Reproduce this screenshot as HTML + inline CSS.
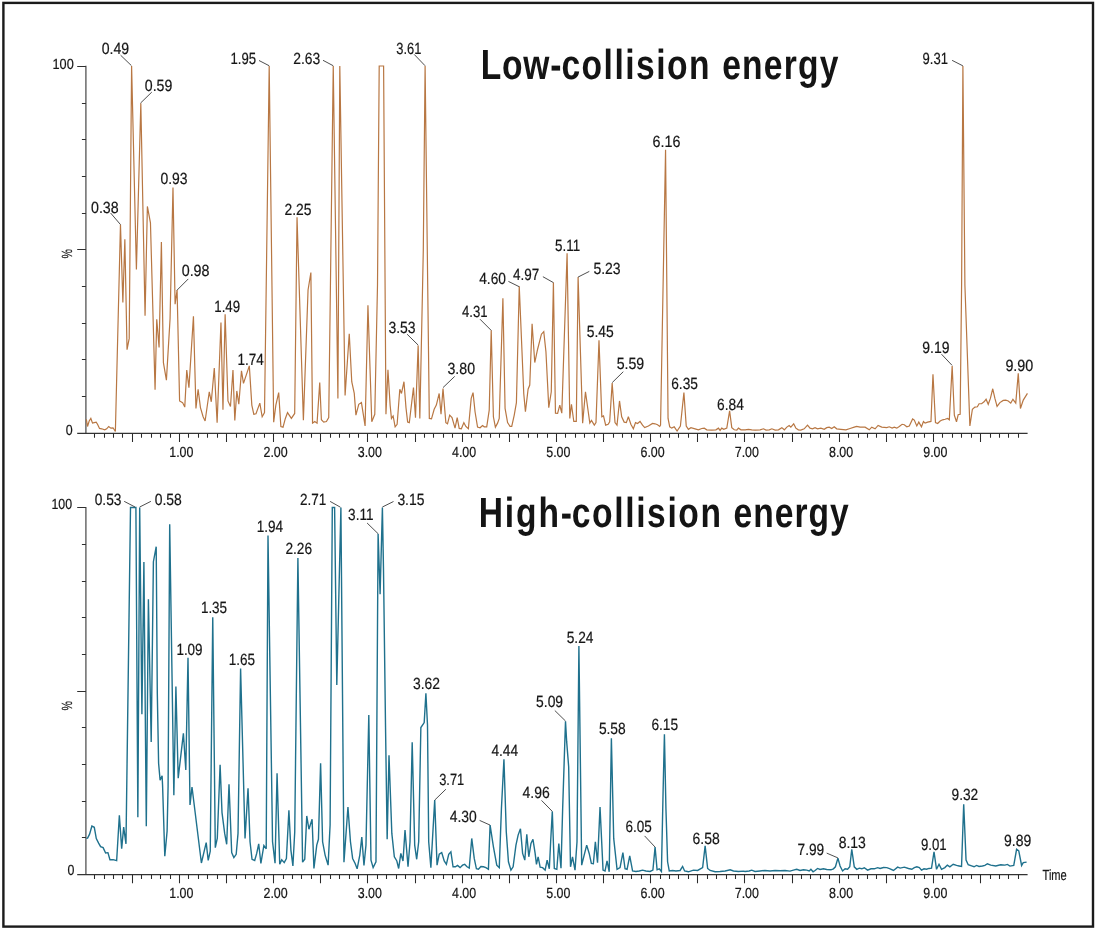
<!DOCTYPE html>
<html lang="en">
<head>
<meta charset="utf-8">
<title>Low- and high-collision energy chromatograms</title>
<style>
html,body{margin:0;padding:0;background:#fff;}
body{width:1097px;height:931px;overflow:hidden;font-family:"Liberation Sans",sans-serif;}
svg{display:block;}
text{font-family:"Liberation Sans",sans-serif;fill:#161616;text-rendering:geometricPrecision;}
svg{will-change:transform;opacity:0.9999;}
.ax{font-size:14.7px;stroke:#161616;stroke-width:0.22px;}
.pk{font-size:16.2px;stroke:#161616;stroke-width:0.2px;}
.ttl{font-size:42px;font-weight:bold;fill:#141414;}
</style>
</head>
<body>
<svg width="1097" height="931" viewBox="0 0 1097 931">
<rect x="0" y="0" width="1097" height="931" fill="#fff"/>
<rect x="3.4" y="2.9" width="1089.6" height="923.7" fill="none" stroke="#1b1b1b" stroke-width="2.4"/>
<!-- top chart -->
<line x1="85.9" y1="65.70" x2="85.9" y2="433.40" stroke="#5a5a5a" stroke-width="1.35"/>
<line x1="77.2" y1="433.40" x2="1027.6" y2="433.40" stroke="#333" stroke-width="1.3"/>
<path d="M94.5 433.40v4.3 M104.5 433.40v4.3 M113.5 433.40v4.3 M122.5 433.40v4.3 M132.5 433.40v8.6 M141.5 433.40v4.3 M151.5 433.40v4.3 M160.5 433.40v4.3 M170.5 433.40v4.3 M179.5 433.40v8.6 M188.5 433.40v4.3 M198.5 433.40v4.3 M207.5 433.40v4.3 M217.5 433.40v4.3 M226.5 433.40v8.6 M236.5 433.40v4.3 M245.5 433.40v4.3 M254.5 433.40v4.3 M264.5 433.40v4.3 M273.5 433.40v8.6 M283.5 433.40v4.3 M292.5 433.40v4.3 M301.5 433.40v4.3 M311.5 433.40v4.3 M320.5 433.40v8.6 M330.5 433.40v4.3 M339.5 433.40v4.3 M349.5 433.40v4.3 M358.5 433.40v4.3 M367.5 433.40v8.6 M377.5 433.40v4.3 M386.5 433.40v4.3 M396.5 433.40v4.3 M405.5 433.40v4.3 M415.5 433.40v8.6 M424.5 433.40v4.3 M433.5 433.40v4.3 M443.5 433.40v4.3 M452.5 433.40v4.3 M462.5 433.40v8.6 M471.5 433.40v4.3 M481.5 433.40v4.3 M490.5 433.40v4.3 M499.5 433.40v4.3 M509.5 433.40v8.6 M518.5 433.40v4.3 M528.5 433.40v4.3 M537.5 433.40v4.3 M547.5 433.40v4.3 M556.5 433.40v8.6 M565.5 433.40v4.3 M575.5 433.40v4.3 M584.5 433.40v4.3 M594.5 433.40v4.3 M603.5 433.40v8.6 M613.5 433.40v4.3 M622.5 433.40v4.3 M631.5 433.40v4.3 M641.5 433.40v4.3 M650.5 433.40v8.6 M660.5 433.40v4.3 M669.5 433.40v4.3 M678.5 433.40v4.3 M688.5 433.40v4.3 M697.5 433.40v8.6 M707.5 433.40v4.3 M716.5 433.40v4.3 M726.5 433.40v4.3 M735.5 433.40v4.3 M744.5 433.40v8.6 M754.5 433.40v4.3 M763.5 433.40v4.3 M773.5 433.40v4.3 M782.5 433.40v4.3 M792.5 433.40v8.6 M801.5 433.40v4.3 M810.5 433.40v4.3 M820.5 433.40v4.3 M829.5 433.40v4.3 M839.5 433.40v8.6 M848.5 433.40v4.3 M858.5 433.40v4.3 M867.5 433.40v4.3 M876.5 433.40v4.3 M886.5 433.40v8.6 M895.5 433.40v4.3 M905.5 433.40v4.3 M914.5 433.40v4.3 M924.5 433.40v4.3 M933.5 433.40v8.6 M942.5 433.40v4.3 M952.5 433.40v4.3 M961.5 433.40v4.3 M971.5 433.40v4.3 M980.5 433.40v8.6 M990.5 433.40v4.3 M999.5 433.40v4.3 M1008.5 433.40v4.3 M1018.5 433.40v4.3" stroke="#2a2a2a" stroke-width="1.05" fill="none"/>
<path d="M85.9 396.5h-4.0 M85.9 359.5h-4.0 M85.9 323.5h-4.0 M85.9 286.5h-4.0 M85.9 249.5h-8.7 M85.9 213.5h-4.0 M85.9 176.5h-4.0 M85.9 139.5h-4.0 M85.9 103.5h-4.0 M85.9 66.5h-8.7" stroke="#2e2e2e" stroke-width="1.05" fill="none"/>
<text class="ax" x="169.25" y="457.00" textLength="24.2" lengthAdjust="spacingAndGlyphs">1.00</text>
<text class="ax" x="263.50" y="457.00" textLength="24.2" lengthAdjust="spacingAndGlyphs">2.00</text>
<text class="ax" x="357.75" y="457.00" textLength="24.2" lengthAdjust="spacingAndGlyphs">3.00</text>
<text class="ax" x="452.00" y="457.00" textLength="24.2" lengthAdjust="spacingAndGlyphs">4.00</text>
<text class="ax" x="546.25" y="457.00" textLength="24.2" lengthAdjust="spacingAndGlyphs">5.00</text>
<text class="ax" x="640.50" y="457.00" textLength="24.2" lengthAdjust="spacingAndGlyphs">6.00</text>
<text class="ax" x="734.75" y="457.00" textLength="24.2" lengthAdjust="spacingAndGlyphs">7.00</text>
<text class="ax" x="829.00" y="457.00" textLength="24.2" lengthAdjust="spacingAndGlyphs">8.00</text>
<text class="ax" x="923.25" y="457.00" textLength="24.2" lengthAdjust="spacingAndGlyphs">9.00</text>
<text class="ax" x="52.5" y="68.8" textLength="21.2" lengthAdjust="spacingAndGlyphs">100</text>
<text class="ax" x="65.8" y="434.8" textLength="6.9" lengthAdjust="spacingAndGlyphs">0</text>
<text class="ax" transform="translate(71.9 258.55) rotate(-90) scale(0.72 1)" x="0" y="0">%</text>
<polyline points="86.34,419.29 87.51,426.46 89.18,420.96 90.84,418.45 92.51,423.13 94.18,422.63 96.18,422.12 97.52,424.29 99.52,428.46 101.69,428.80 104.69,429.80 106.69,428.80 108.69,426.46 110.86,428.13 113.03,427.80 115.37,431.47 120.47,224.59 122.87,302.52 124.85,239.24 127.04,349.73 129.21,338.38 131.60,66.00 136.40,269.50 140.82,103.16 145.06,315.86 147.38,206.43 150.45,222.84 155.07,389.76 156.74,319.20 159.07,347.56 161.39,242.09 163.41,362.57 166.41,380.09 170.08,318.36 172.98,187.39 175.09,304.18 177.09,290.00 179.59,400.94 182.59,402.61 184.76,407.11 186.76,370.08 188.93,387.59 193.44,316.36 195.94,408.45 198.11,389.26 200.44,407.61 203.11,416.79 205.11,420.96 209.28,391.76 211.29,401.77 214.29,368.08 217.12,422.63 220.96,322.53 222.96,409.78 225.13,314.19 227.97,400.94 230.47,406.44 232.97,370.08 234.81,420.46 236.81,390.93 238.81,404.28 241.48,370.91 243.48,383.42 249.32,365.91 251.82,405.11 253.82,414.28 255.99,413.78 259.83,403.11 262.17,416.79 264.51,412.62 269.20,66.00 273.68,422.12 275.85,405.11 278.69,392.60 280.86,426.46 283.03,427.13 285.36,418.45 287.53,412.62 291.37,418.45 294.70,413.45 297.03,217.37 303.38,420.12 308.05,290.00 310.88,272.49 312.55,423.13 314.72,421.46 317.06,423.13 319.73,382.59 321.39,419.79 323.73,422.12 326.40,421.46 328.73,417.62 333.25,66.00 337.91,398.44 339.80,66.00 345.08,395.43 349.25,333.71 351.75,381.75 354.26,393.43 355.93,415.12 358.76,404.28 361.43,402.61 365.10,425.96 367.94,305.35 371.77,421.79 374.78,414.28 377.50,285.00 379.20,66.00 383.60,66.00 385.95,414.28 387.95,369.74 390.12,405.11 391.46,418.45 393.13,415.95 395.13,426.80 397.13,424.29 399.80,389.26 401.47,393.43 403.97,381.75 405.97,407.61 407.64,422.12 409.31,422.63 413.48,387.59 415.48,417.62 418.15,345.39 419.82,418.45 422.60,285.00 423.30,250.00 425.10,66.00 427.70,285.00 429.33,418.45 431.49,418.79 434.17,409.28 436.34,405.11 439.18,393.43 441.01,414.28 443.01,388.43 445.85,422.63 447.52,423.79 449.68,415.12 452.02,417.62 455.02,428.13 457.19,417.62 459.19,428.46 461.36,428.80 463.86,422.63 465.87,426.46 468.37,428.80 471.20,398.44 473.04,392.60 475.04,411.78 477.54,427.13 480.05,427.80 482.55,425.46 484.22,426.80 486.72,426.80 489.22,410.11 491.22,330.37 493.39,416.79 495.39,427.13 497.56,423.13 499.23,418.45 502.90,298.35 505.07,408.45 507.57,422.63 510.07,426.46 511.74,426.46 514.24,415.12 516.41,402.61 519.25,286.33 523.75,393.43 525.42,411.78 528.09,389.26 529.76,385.09 532.09,323.70 534.76,362.57 537.60,349.23 541.43,334.21 543.77,331.71 545.94,351.73 548.77,407.61 551.28,391.76 553.41,282.56 555.45,413.12 557.62,413.45 559.78,405.11 561.79,413.12 567.09,253.37 569.79,418.45 571.46,404.28 573.80,421.46 576.30,421.46 578.10,277.06 582.64,423.13 585.47,391.76 589.81,423.13 591.48,420.46 594.32,425.13 595.98,422.63 598.99,340.38 601.82,416.79 603.49,415.95 605.66,425.13 608.16,424.29 609.67,421.79 612.17,383.09 615.01,422.63 617.01,425.13 619.51,400.94 621.68,416.79 624.18,422.12 626.35,422.63 628.35,416.79 630.86,424.29 633.36,428.80 635.53,422.63 637.53,423.46 640.03,421.46 642.53,425.13 644.70,427.63 648.37,425.96 652.54,423.46 655.05,423.79 657.55,424.79 659.72,426.46 660.55,425.13 665.56,149.68 668.06,418.45 669.73,426.80 671.73,428.13 674.23,426.80 677.07,430.97 680.40,425.96 683.91,392.60 686.24,425.96 688.41,429.30 690.91,427.63 695.08,428.80 698.42,429.80 701.75,428.46 704.26,428.13 706.76,429.80 711.76,430.13 715.93,429.80 718.44,428.13 720.10,430.47 721.77,428.13 723.77,429.30 726.78,428.13 729.61,410.95 731.78,427.63 734.28,429.80 736.79,430.13 738.45,428.13 740.96,429.80 745.13,429.80 748.46,429.30 751.80,429.80 755.14,430.13 760.14,429.80 763.48,428.80 765.98,430.13 769.32,429.80 771.82,428.80 775.15,430.13 778.49,429.80 781.83,427.63 784.33,429.80 786.83,427.13 789.18,425.46 790.84,427.13 793.68,423.79 795.85,428.13 798.35,429.80 800.85,430.13 804.19,428.80 807.53,425.13 810.03,428.13 812.53,428.80 815.03,427.63 817.53,428.80 820.87,428.13 824.21,429.30 826.71,427.63 829.21,427.13 831.71,428.46 834.22,426.80 836.72,428.80 840.89,429.30 845.89,429.80 850.06,428.46 854.23,427.13 856.74,426.46 860.07,427.13 865.08,427.13 869.25,429.80 871.75,427.13 875.09,428.80 878.09,425.46 881.76,427.13 886.76,427.63 889.27,426.80 892.10,428.13 894.27,427.13 896.77,428.13 899.28,426.46 902.11,424.29 904.28,424.79 906.78,426.80 909.28,425.96 912.62,418.96 914.29,420.12 916.79,425.96 918.79,422.12 921.46,426.80 923.46,421.46 925.13,423.13 927.63,422.12 930.97,421.46 932.97,374.25 935.47,422.63 937.64,423.46 940.15,420.96 942.65,419.79 945.15,419.29 947.65,418.45 949.32,419.79 952.16,365.91 954.33,415.12 956.49,421.79 958.16,414.78 960.16,414.28 961.60,285.00 962.90,66.00 964.90,285.00 969.88,425.96 972.39,409.28 974.89,407.11 977.39,406.78 979.06,403.77 981.56,403.77 984.06,401.77 986.07,399.27 988.23,404.28 990.40,398.44 992.74,388.76 994.91,398.44 997.08,406.44 999.91,402.61 1003.25,400.44 1005.75,400.10 1008.25,400.94 1010.75,403.11 1012.92,399.27 1015.76,403.11 1018.26,373.41 1020.43,408.45 1023.27,400.10 1027.44,393.43" fill="none" stroke="#b87743" stroke-width="1.2" stroke-linejoin="miter" stroke-miterlimit="3"/>
<path d="M120.6 55.2L131.4 65.6 M151.8 92.1L140.5 103.1 M110.6 213L120.5 224.6 M188.3 278.9L176.9 290.3 M259 60.5L269.2 65.75 M323 60.3L333.25 65.75 M414.2 54.4L425.1 65.75 M407.1 334.2L418.1 345 M454.7 376.4L443 387.6 M480 319.2L491.2 330.4 M508.4 281.4L519.2 286.7 M542.9 276.7L553.4 282.6 M589.3 271.4L578.1 277.05 M623.3 371.7L612.2 382.6 M941.5 354.2L952.1 365.4 M952.1 60.35L962.9 65.85" stroke="#3a3a3a" stroke-width="0.9" fill="none"/>
<text class="pk" x="101.80" y="53.50" textLength="27.40" lengthAdjust="spacingAndGlyphs">0.49</text>
<text class="pk" x="144.80" y="90.80" textLength="27.50" lengthAdjust="spacingAndGlyphs">0.59</text>
<text class="pk" x="91.00" y="212.80" textLength="27.60" lengthAdjust="spacingAndGlyphs">0.38</text>
<text class="pk" x="160.50" y="183.90" textLength="27.10" lengthAdjust="spacingAndGlyphs">0.93</text>
<text class="pk" x="181.70" y="276.10" textLength="27.80" lengthAdjust="spacingAndGlyphs">0.98</text>
<text class="pk" x="214.30" y="311.70" textLength="25.80" lengthAdjust="spacingAndGlyphs">1.49</text>
<text class="pk" x="237.50" y="364.80" textLength="26.30" lengthAdjust="spacingAndGlyphs">1.74</text>
<text class="pk" x="230.50" y="64.20" textLength="25.60" lengthAdjust="spacingAndGlyphs">1.95</text>
<text class="pk" x="284.50" y="215.20" textLength="27.00" lengthAdjust="spacingAndGlyphs">2.25</text>
<text class="pk" x="293.30" y="64.20" textLength="27.00" lengthAdjust="spacingAndGlyphs">2.63</text>
<text class="pk" x="396.30" y="53.50" textLength="25.10" lengthAdjust="spacingAndGlyphs">3.61</text>
<text class="pk" x="388.40" y="332.50" textLength="27.10" lengthAdjust="spacingAndGlyphs">3.53</text>
<text class="pk" x="447.50" y="374.20" textLength="27.50" lengthAdjust="spacingAndGlyphs">3.80</text>
<text class="pk" x="462.00" y="316.70" textLength="25.50" lengthAdjust="spacingAndGlyphs">4.31</text>
<text class="pk" x="479.20" y="284.20" textLength="26.70" lengthAdjust="spacingAndGlyphs">4.60</text>
<text class="pk" x="513.00" y="280.05" textLength="26.20" lengthAdjust="spacingAndGlyphs">4.97</text>
<text class="pk" x="555.10" y="251.40" textLength="25.00" lengthAdjust="spacingAndGlyphs">5.11</text>
<text class="pk" x="593.40" y="274.20" textLength="27.20" lengthAdjust="spacingAndGlyphs">5.23</text>
<text class="pk" x="586.80" y="337.30" textLength="27.00" lengthAdjust="spacingAndGlyphs">5.45</text>
<text class="pk" x="616.70" y="369.20" textLength="27.50" lengthAdjust="spacingAndGlyphs">5.59</text>
<text class="pk" x="652.50" y="147.20" textLength="27.90" lengthAdjust="spacingAndGlyphs">6.16</text>
<text class="pk" x="671.20" y="389.25" textLength="26.70" lengthAdjust="spacingAndGlyphs">6.35</text>
<text class="pk" x="717.10" y="410.10" textLength="26.70" lengthAdjust="spacingAndGlyphs">6.84</text>
<text class="pk" x="922.30" y="352.60" textLength="27.20" lengthAdjust="spacingAndGlyphs">9.19</text>
<text class="pk" x="922.50" y="63.70" textLength="25.40" lengthAdjust="spacingAndGlyphs">9.31</text>
<text class="pk" x="1005.40" y="370.60" textLength="27.90" lengthAdjust="spacingAndGlyphs">9.90</text>
<text class="ttl" transform="translate(480.70 79.40) scale(0.8 1)" x="0" y="0" textLength="100.87" lengthAdjust="spacing">Low-</text>
<text class="ttl" transform="translate(561.40 79.40) scale(0.8 1)" x="0" y="0" textLength="185.25" lengthAdjust="spacing">collision</text>
<text class="ttl" transform="translate(722.20 79.40) scale(0.8 1)" x="0" y="0" textLength="145.25" lengthAdjust="spacing">energy</text>
<!-- bottom chart -->
<line x1="85.9" y1="507.00" x2="85.9" y2="874.70" stroke="#5a5a5a" stroke-width="1.35"/>
<line x1="77.2" y1="874.70" x2="1027.6" y2="874.70" stroke="#333" stroke-width="1.3"/>
<path d="M94.5 874.70v4.3 M104.5 874.70v4.3 M113.5 874.70v4.3 M122.5 874.70v4.3 M132.5 874.70v8.6 M141.5 874.70v4.3 M151.5 874.70v4.3 M160.5 874.70v4.3 M170.5 874.70v4.3 M179.5 874.70v8.6 M188.5 874.70v4.3 M198.5 874.70v4.3 M207.5 874.70v4.3 M217.5 874.70v4.3 M226.5 874.70v8.6 M236.5 874.70v4.3 M245.5 874.70v4.3 M254.5 874.70v4.3 M264.5 874.70v4.3 M273.5 874.70v8.6 M283.5 874.70v4.3 M292.5 874.70v4.3 M301.5 874.70v4.3 M311.5 874.70v4.3 M320.5 874.70v8.6 M330.5 874.70v4.3 M339.5 874.70v4.3 M349.5 874.70v4.3 M358.5 874.70v4.3 M367.5 874.70v8.6 M377.5 874.70v4.3 M386.5 874.70v4.3 M396.5 874.70v4.3 M405.5 874.70v4.3 M415.5 874.70v8.6 M424.5 874.70v4.3 M433.5 874.70v4.3 M443.5 874.70v4.3 M452.5 874.70v4.3 M462.5 874.70v8.6 M471.5 874.70v4.3 M481.5 874.70v4.3 M490.5 874.70v4.3 M499.5 874.70v4.3 M509.5 874.70v8.6 M518.5 874.70v4.3 M528.5 874.70v4.3 M537.5 874.70v4.3 M547.5 874.70v4.3 M556.5 874.70v8.6 M565.5 874.70v4.3 M575.5 874.70v4.3 M584.5 874.70v4.3 M594.5 874.70v4.3 M603.5 874.70v8.6 M613.5 874.70v4.3 M622.5 874.70v4.3 M631.5 874.70v4.3 M641.5 874.70v4.3 M650.5 874.70v8.6 M660.5 874.70v4.3 M669.5 874.70v4.3 M678.5 874.70v4.3 M688.5 874.70v4.3 M697.5 874.70v8.6 M707.5 874.70v4.3 M716.5 874.70v4.3 M726.5 874.70v4.3 M735.5 874.70v4.3 M744.5 874.70v8.6 M754.5 874.70v4.3 M763.5 874.70v4.3 M773.5 874.70v4.3 M782.5 874.70v4.3 M792.5 874.70v8.6 M801.5 874.70v4.3 M810.5 874.70v4.3 M820.5 874.70v4.3 M829.5 874.70v4.3 M839.5 874.70v8.6 M848.5 874.70v4.3 M858.5 874.70v4.3 M867.5 874.70v4.3 M876.5 874.70v4.3 M886.5 874.70v8.6 M895.5 874.70v4.3 M905.5 874.70v4.3 M914.5 874.70v4.3 M924.5 874.70v4.3 M933.5 874.70v8.6 M942.5 874.70v4.3 M952.5 874.70v4.3 M961.5 874.70v4.3 M971.5 874.70v4.3 M980.5 874.70v8.6 M990.5 874.70v4.3 M999.5 874.70v4.3 M1008.5 874.70v4.3 M1018.5 874.70v4.3" stroke="#2a2a2a" stroke-width="1.05" fill="none"/>
<path d="M85.9 837.5h-4.0 M85.9 801.5h-4.0 M85.9 764.5h-4.0 M85.9 727.5h-4.0 M85.9 691.5h-8.7 M85.9 654.5h-4.0 M85.9 617.5h-4.0 M85.9 581.5h-4.0 M85.9 544.5h-4.0 M85.9 507.5h-8.7" stroke="#2e2e2e" stroke-width="1.05" fill="none"/>
<text class="ax" x="169.25" y="898.30" textLength="24.2" lengthAdjust="spacingAndGlyphs">1.00</text>
<text class="ax" x="263.50" y="898.30" textLength="24.2" lengthAdjust="spacingAndGlyphs">2.00</text>
<text class="ax" x="357.75" y="898.30" textLength="24.2" lengthAdjust="spacingAndGlyphs">3.00</text>
<text class="ax" x="452.00" y="898.30" textLength="24.2" lengthAdjust="spacingAndGlyphs">4.00</text>
<text class="ax" x="546.25" y="898.30" textLength="24.2" lengthAdjust="spacingAndGlyphs">5.00</text>
<text class="ax" x="640.50" y="898.30" textLength="24.2" lengthAdjust="spacingAndGlyphs">6.00</text>
<text class="ax" x="734.75" y="898.30" textLength="24.2" lengthAdjust="spacingAndGlyphs">7.00</text>
<text class="ax" x="829.00" y="898.30" textLength="24.2" lengthAdjust="spacingAndGlyphs">8.00</text>
<text class="ax" x="923.25" y="898.30" textLength="24.2" lengthAdjust="spacingAndGlyphs">9.00</text>
<text class="ax" x="51.45" y="508.6" textLength="20.65" lengthAdjust="spacingAndGlyphs">100</text>
<text class="ax" x="67.5" y="875.4" textLength="6.9" lengthAdjust="spacingAndGlyphs">0</text>
<text class="ax" transform="translate(71.9 710.50) rotate(-90) scale(0.72 1)" x="0" y="0">%</text>
<polyline points="86.27,838.34 87.58,838.14 89.58,834.13 91.89,826.11 94.29,827.31 96.30,838.64 98.61,843.16 100.61,846.67 103.12,847.67 105.62,852.98 107.93,852.68 109.94,859.70 113.14,859.70 116.65,860.70 119.36,815.28 121.67,848.67 123.67,827.11 125.98,843.96 130.50,507.50 135.90,507.50 137.85,817.30 139.70,507.50 141.90,714.30 143.90,562.10 146.30,826.30 148.40,599.30 151.20,742.00 153.40,561.70 156.20,546.70 157.30,693.00 158.60,763.20 160.10,780.20 162.10,775.70 162.60,786.00 164.80,856.20 167.10,831.10 168.10,786.00 169.70,524.20 173.85,795.20 175.90,686.40 178.20,778.20 183.40,733.30 185.80,770.00 188.00,657.80 190.00,805.00 192.00,787.00 201.40,863.00 206.20,842.70 208.20,860.40 210.25,851.20 212.75,617.20 215.30,847.70 217.30,838.10 220.10,764.70 222.01,812.58 224.68,833.43 226.68,844.28 229.01,784.22 231.68,852.62 233.85,857.62 236.19,854.28 238.02,833.43 240.60,668.40 245.03,838.44 248.03,788.39 250.03,841.77 252.03,859.29 254.70,860.46 256.70,853.45 258.71,843.77 260.88,863.46 263.88,845.44 266.21,848.78 268.00,535.40 272.55,841.77 275.05,863.13 277.06,773.38 279.73,864.29 281.73,859.79 284.23,862.63 286.40,858.45 288.90,810.41 290.90,850.11 292.90,865.96 294.74,831.76 297.90,558.10 302.58,862.12 304.75,859.29 306.75,815.92 308.92,829.26 312.09,819.25 313.92,868.46 316.76,845.11 318.43,839.27 320.60,763.37 322.60,841.77 325.10,855.12 328.10,865.13 330.10,825.09 332.30,507.50 334.60,507.50 336.80,685.10 340.90,507.50 343.95,862.12 347.95,807.07 350.46,841.77 352.63,858.45 355.13,863.46 357.13,868.80 359.80,855.12 361.80,837.10 363.97,865.46 365.97,845.11 368.80,715.10 370.98,860.12 373.14,867.63 375.98,861.79 378.10,533.70 380.10,594.30 382.40,507.50 383.50,570.00 385.50,725.00 387.16,839.27 388.99,755.36 391.83,833.43 394.33,856.79 396.83,860.96 398.67,868.46 400.84,853.45 403.01,860.96 405.01,830.10 408.02,866.80 410.02,841.77 412.19,742.18 414.69,845.11 416.69,859.29 418.69,841.77 420.86,727.50 424.20,722.60 425.90,693.40 427.50,725.00 428.70,841.77 430.87,867.63 434.71,800.07 437.04,865.13 439.21,854.28 441.71,852.62 444.22,860.96 446.38,864.29 448.72,854.28 450.89,851.78 453.06,866.80 455.39,866.80 457.56,865.46 460.06,867.63 462.57,865.13 464.73,864.29 466.74,866.46 469.24,868.13 471.74,838.44 474.24,858.45 476.41,868.80 478.41,869.30 480.92,866.46 483.42,866.80 485.92,867.63 488.42,869.30 490.09,825.09 493.43,846.78 496.76,865.13 499.27,867.63 501.43,808.41 503.94,759.20 506.27,831.76 508.44,861.79 510.94,870.13 513.11,866.80 515.95,845.11 518.12,835.10 520.45,828.76 522.62,853.45 524.79,860.12 526.79,834.27 528.79,856.79 530.96,843.44 532.96,839.27 535.13,853.45 536.47,864.29 538.13,856.79 540.14,867.13 542.64,867.63 545.14,870.13 547.14,860.12 549.31,868.80 550.65,841.77 552.31,811.41 554.32,868.46 556.82,869.30 558.82,843.44 560.99,868.13 562.66,808.41 565.50,721.20 566.67,741.68 568.67,766.70 570.51,866.80 572.51,856.79 575.01,870.13 577.01,841.77 578.90,645.90 581.68,865.13 584.18,855.12 586.69,845.11 589.19,853.45 591.36,863.46 593.36,863.79 595.36,841.77 597.53,862.63 600.03,807.07 603.03,870.13 605.04,870.97 607.04,860.96 609.21,871.80 611.38,738.35 613.71,838.44 617.05,869.30 620.05,867.63 622.89,852.62 625.05,868.80 627.06,869.30 629.73,855.95 632.56,870.97 635.90,871.47 639.23,870.97 642.57,870.13 645.91,870.97 650.08,871.47 652.91,870.13 655.08,847.11 657.08,869.80 659.25,868.80 661.42,871.47 663.09,791.73 664.42,734.18 665.93,808.41 667.59,861.79 669.26,870.97 672.60,870.47 675.93,870.97 680.10,870.47 682.61,866.46 684.61,870.97 688.45,871.80 693.45,870.13 697.62,870.47 702.63,867.63 705.13,845.94 707.63,868.46 710.13,870.47 715.14,871.80 720.14,871.47 725.15,870.97 730.15,869.80 733.49,870.97 738.49,871.47 743.50,871.13 745.00,871.47 749.18,870.97 751.68,870.13 755.01,871.47 760.02,870.97 765.02,870.47 770.03,870.97 775.03,870.47 780.04,870.80 785.04,870.47 790.05,871.13 793.38,870.13 796.72,869.30 800.05,870.47 803.39,869.80 806.73,870.13 809.23,870.97 810.90,869.30 813.07,871.80 815.07,870.47 817.57,868.46 820.07,869.46 823.41,868.80 826.75,869.46 830.92,869.80 833.42,868.80 835.42,866.80 837.92,858.12 840.09,865.96 842.59,870.97 845.10,868.80 847.60,869.30 849.77,866.80 851.77,849.28 854.27,866.80 856.77,869.30 859.28,868.13 861.78,868.80 864.28,867.80 867.62,870.13 870.95,868.80 874.29,868.80 877.63,867.63 880.13,868.46 883.46,867.46 886.80,867.63 890.14,868.80 893.47,870.47 897.64,867.13 900.15,868.13 904.32,867.13 908.49,868.46 911.82,869.30 914.33,867.63 916.83,866.80 919.33,867.63 921.51,870.11 924.01,868.78 926.51,869.28 929.01,868.45 931.52,868.11 934.02,851.76 936.52,869.28 939.02,864.28 941.53,869.28 944.86,867.61 947.36,865.11 949.87,866.78 953.20,864.28 956.54,865.44 959.04,865.94 961.54,866.44 963.71,804.22 966.05,860.10 968.22,864.78 971.55,865.94 974.05,866.78 976.56,865.44 979.06,866.44 982.40,865.94 984.90,865.44 987.40,863.77 990.74,865.11 995.74,865.94 1000.75,864.78 1004.92,865.11 1007.42,864.44 1009.92,866.11 1013.76,865.44 1016.59,849.26 1018.76,850.93 1021.60,865.44 1023.27,862.61 1026.60,862.11" fill="none" stroke="#1f718d" stroke-width="1.4" stroke-linejoin="miter" stroke-miterlimit="3"/>
<path d="M124.2 501.35L135.05 507 M150.9 501.35L139.7 507 M330.1 501.4L340.4 507.2 M367.1 523L378.1 533.7 M393.5 501.5L382.4 507 M445.9 789.2L434.7 800.1 M479.6 820.4L490.1 825.1 M541.5 800.4L552.3 811.4 M554.8 710.5L565.5 721 M644.6 835.9L655.1 847.1 M826.7 853.1L837.9 857.9" stroke="#3a3a3a" stroke-width="0.9" fill="none"/>
<text class="pk" x="94.70" y="504.70" textLength="26.70" lengthAdjust="spacingAndGlyphs">0.53</text>
<text class="pk" x="154.70" y="504.70" textLength="27.05" lengthAdjust="spacingAndGlyphs">0.58</text>
<text class="pk" x="176.40" y="654.70" textLength="26.20" lengthAdjust="spacingAndGlyphs">1.09</text>
<text class="pk" x="200.90" y="613.40" textLength="26.20" lengthAdjust="spacingAndGlyphs">1.35</text>
<text class="pk" x="228.80" y="664.70" textLength="26.30" lengthAdjust="spacingAndGlyphs">1.65</text>
<text class="pk" x="256.70" y="531.70" textLength="26.40" lengthAdjust="spacingAndGlyphs">1.94</text>
<text class="pk" x="285.40" y="554.20" textLength="26.70" lengthAdjust="spacingAndGlyphs">2.26</text>
<text class="pk" x="300.10" y="504.70" textLength="26.30" lengthAdjust="spacingAndGlyphs">2.71</text>
<text class="pk" x="348.10" y="519.50" textLength="25.40" lengthAdjust="spacingAndGlyphs">3.11</text>
<text class="pk" x="397.40" y="504.70" textLength="27.00" lengthAdjust="spacingAndGlyphs">3.15</text>
<text class="pk" x="413.00" y="689.30" textLength="27.00" lengthAdjust="spacingAndGlyphs">3.62</text>
<text class="pk" x="439.20" y="785.05" textLength="25.00" lengthAdjust="spacingAndGlyphs">3.71</text>
<text class="pk" x="449.70" y="822.10" textLength="27.00" lengthAdjust="spacingAndGlyphs">4.30</text>
<text class="pk" x="491.40" y="755.50" textLength="26.70" lengthAdjust="spacingAndGlyphs">4.44</text>
<text class="pk" x="522.60" y="797.60" textLength="27.20" lengthAdjust="spacingAndGlyphs">4.96</text>
<text class="pk" x="536.10" y="707.20" textLength="26.95" lengthAdjust="spacingAndGlyphs">5.09</text>
<text class="pk" x="566.70" y="642.50" textLength="26.70" lengthAdjust="spacingAndGlyphs">5.24</text>
<text class="pk" x="598.90" y="734.30" textLength="26.80" lengthAdjust="spacingAndGlyphs">5.58</text>
<text class="pk" x="625.40" y="831.75" textLength="26.30" lengthAdjust="spacingAndGlyphs">6.05</text>
<text class="pk" x="651.40" y="730.10" textLength="26.70" lengthAdjust="spacingAndGlyphs">6.15</text>
<text class="pk" x="692.60" y="844.30" textLength="27.20" lengthAdjust="spacingAndGlyphs">6.58</text>
<text class="pk" x="797.50" y="855.10" textLength="26.70" lengthAdjust="spacingAndGlyphs">7.99</text>
<text class="pk" x="838.70" y="848.10" textLength="27.20" lengthAdjust="spacingAndGlyphs">8.13</text>
<text class="pk" x="921.00" y="849.50" textLength="25.70" lengthAdjust="spacingAndGlyphs">9.01</text>
<text class="pk" x="951.50" y="800.40" textLength="26.70" lengthAdjust="spacingAndGlyphs">9.32</text>
<text class="pk" x="1004.10" y="846.25" textLength="27.20" lengthAdjust="spacingAndGlyphs">9.89</text>
<text class="ttl" transform="translate(478.65 527.40) scale(0.8 1)" x="0" y="0" textLength="116.69" lengthAdjust="spacing">High-</text>
<text class="ttl" transform="translate(571.80 527.40) scale(0.8 1)" x="0" y="0" textLength="186.50" lengthAdjust="spacing">collision</text>
<text class="ttl" transform="translate(733.60 527.40) scale(0.8 1)" x="0" y="0" textLength="144.00" lengthAdjust="spacing">energy</text>
<text class="ax" x="1042.5" y="879.9" textLength="24.3" lengthAdjust="spacingAndGlyphs">Time</text>
</svg>
</body>
</html>
